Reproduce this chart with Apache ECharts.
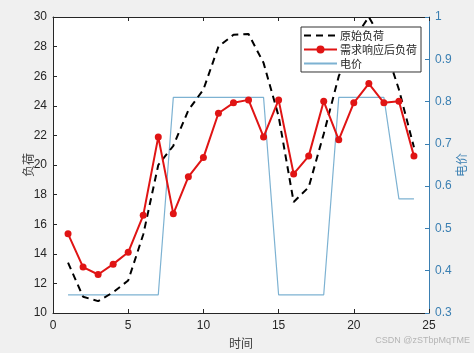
<!DOCTYPE html>
<html>
<head>
<meta charset="utf-8">
<script src="https://cdn.jsdelivr.net/npm/echarts@6/dist/echarts.min.js"></script>
<style>
  html, body { margin: 0; padding: 0; background: #f0f0f0; }
  #chart { width: 474px; height: 353px; }
</style>
</head>
<body>
<div id="chart"></div>
<script>
// hours 1..24
const hours = [1, 2, 3, 4, 5, 6, 7, 8, 9, 10, 11, 12, 13, 14, 15, 16, 17, 18, 19, 20, 21, 22, 23, 24];
// 原始负荷
const originalLoad = [13.4, 11.1, 10.8, 11.4, 12.2, 15.3, 20.0, 21.3, 23.7, 25.1, 28.0, 28.8,
                      28.85, 26.9, 23.3, 17.5, 18.5, 22.1, 26.0, 28.5, 30.0, 28.2, 25.1, 21.2];
// 需求响应后负荷
const responseLoad = [15.35, 13.1, 12.6, 13.3, 14.1, 16.6, 21.9, 16.7, 19.2, 20.5, 23.5, 24.2,
                      24.4, 21.9, 24.4, 19.4, 20.6, 24.3, 21.7, 24.2, 25.5, 24.2, 24.3, 20.6];
// 电价
const price = [0.343, 0.343, 0.343, 0.343, 0.343, 0.343, 0.343, 0.81, 0.81, 0.81, 0.81, 0.81,
               0.81, 0.81, 0.343, 0.343, 0.343, 0.343, 0.81, 0.81, 0.81, 0.81, 0.57, 0.57];

const seriesNames = ['原始负荷', '需求响应后负荷', '电价'];

const pair = arr => hours.map((h, i) => [h, arr[i]]);

const chart = echarts.init(document.getElementById('chart'));

const axisDark = '#262626';
const axisBlue = '#3a7fb2';
const tickFont = { fontFamily: 'Liberation Sans, Arial, sans-serif', fontSize: 12 };
const cjkFont = 'Noto Sans CJK SC';

chart.setOption({
  backgroundColor: '#f0f0f0',
  animation: false,
  grid: {
    left: 53, right: 45, top: 17, bottom: 40,
    outerBoundsMode: 'none',
    show: true, backgroundColor: '#ffffff', borderWidth: 0
  },
  legend: {
    data: [
      { name: seriesNames[0], itemStyle: { opacity: 0 } },
      { name: seriesNames[1] },
      { name: seriesNames[2], itemStyle: { opacity: 0 } }
    ],
    orient: 'vertical',
    right: 53, top: 27,
    itemWidth: 33, itemHeight: 10, itemGap: 3,
    padding: [3, 4, 3, 2],
    backgroundColor: '#ffffff',
    borderColor: '#333333', borderWidth: 1,
    textStyle: { fontFamily: cjkFont, fontSize: 11, color: '#262626', padding: [0, 0, 0, -2] }
  },
  xAxis: [
    {
      type: 'value', min: 0, max: 25, interval: 5,
      name: '时间', nameLocation: 'middle', nameGap: 24, nameMoveOverlap: false,
      nameTextStyle: { fontFamily: cjkFont, fontSize: 12, color: '#404040' },
      axisLine: { onZero: false, lineStyle: { color: axisDark } },
      axisTick: { inside: true, length: 4, lineStyle: { color: axisDark } },
      axisLabel: Object.assign({ color: axisDark, margin: 7 }, tickFont),
      splitLine: { show: false }
    },
    {
      type: 'value', min: 0, max: 25, interval: 5, position: 'top',
      axisLine: { onZero: false, lineStyle: { color: axisDark } },
      axisTick: { inside: true, length: 4, lineStyle: { color: axisDark } },
      axisLabel: { show: false },
      splitLine: { show: false }
    }
  ],
  yAxis: [
    {
      type: 'value', min: 10, max: 30, interval: 2, position: 'left',
      name: '负荷', nameLocation: 'middle', nameGap: 19, nameMoveOverlap: false,
      nameTextStyle: { fontFamily: cjkFont, fontSize: 12, color: '#404040' },
      axisLine: { show: true, onZero: false, lineStyle: { color: axisDark } },
      axisTick: { show: true, inside: true, length: 4, lineStyle: { color: axisDark } },
      axisLabel: Object.assign({ color: axisDark, margin: 6 }, tickFont),
      splitLine: { show: false }
    },
    {
      type: 'value', min: 0.3, max: 1, interval: 0.1, position: 'right',
      name: '电价', nameLocation: 'middle', nameGap: 26, nameMoveOverlap: false,
      nameTextStyle: { fontFamily: cjkFont, fontSize: 12, color: axisBlue },
      axisLine: { show: true, onZero: false, lineStyle: { color: axisBlue } },
      axisTick: { show: true, inside: true, length: 4, lineStyle: { color: axisBlue } },
      axisLabel: Object.assign({
        color: axisBlue, margin: 6,
        formatter: v => (Math.round(v * 10) / 10).toString()
      }, tickFont),
      splitLine: { show: false }
    }
  ],
  series: [
    {
      name: '电价',
      type: 'line',
      yAxisIndex: 1,
      data: pair(price),
      symbol: 'none',
      z: 1,
      itemStyle: { color: '#7db2d2' },
      lineStyle: { color: '#7db2d2', width: 1.2 }
    },
    {
      name: '原始负荷',
      type: 'line',
      data: pair(originalLoad),
      symbol: 'none',
      z: 2,
      itemStyle: { color: '#000000' },
      lineStyle: { color: '#000000', width: 2, type: [7, 5] }
    },
    {
      name: '需求响应后负荷',
      type: 'line',
      data: pair(responseLoad),
      symbol: 'circle',
      symbolSize: 7,
      z: 3,
      itemStyle: { color: '#e01414' },
      lineStyle: { color: '#e01414', width: 2 }
    }
  ],
  graphic: [
    {
      type: 'text', right: 4, top: 336,
      style: { text: 'CSDN @zSTbpMqTME', fill: '#b4b4b4', fontSize: 9, fontFamily: 'Liberation Sans, Arial, sans-serif' }
    }
  ]
});
</script>
</body>
</html>
